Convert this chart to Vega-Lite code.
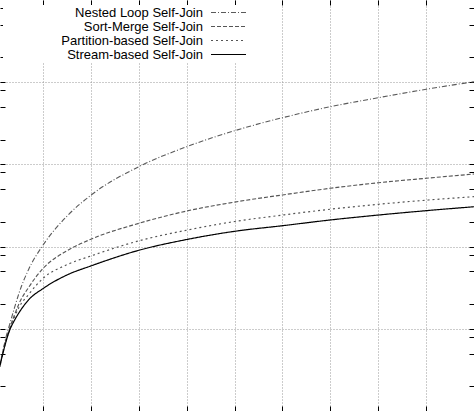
{
  "$schema": "https://vega.github.io/schema/vega-lite/v6.json",
  "width": 474,
  "height": 411,
  "autosize": {"type": "none"},
  "padding": 0,
  "background": "white",
  "config": {
    "view": {"stroke": null},
    "font": "Liberation Sans",
    "legend": {
      "orient": "none", "legendX": 3, "legendY": 5, "title": null,
      "symbolType": "M-3.5,0H3.5", "symbolSize": 100,
      "labelAlign": "right", "labelOffset": -32, "symbolOffset": 218,
      "labelFontSize": 13, "labelFont": "Liberation Sans", "labelColor": "black",
      "fillColor": "white", "padding": 1, "rowPadding": 0
    }
  },
  "data": {
    "values": [
      {"method": "Nested Loop Self-Join", "x": 0.1, "y": 3.43},
      {"method": "Nested Loop Self-Join", "x": 0.15, "y": 4.84},
      {"method": "Nested Loop Self-Join", "x": 0.2, "y": 6.84},
      {"method": "Nested Loop Self-Join", "x": 0.3, "y": 11.2},
      {"method": "Nested Loop Self-Join", "x": 0.4, "y": 17.8},
      {"method": "Nested Loop Self-Join", "x": 0.5, "y": 27.5},
      {"method": "Nested Loop Self-Join", "x": 0.7, "y": 53.1},
      {"method": "Nested Loop Self-Join", "x": 1.0, "y": 104.5},
      {"method": "Nested Loop Self-Join", "x": 1.5, "y": 235},
      {"method": "Nested Loop Self-Join", "x": 2, "y": 422},
      {"method": "Nested Loop Self-Join", "x": 3, "y": 938},
      {"method": "Nested Loop Self-Join", "x": 4, "y": 1641},
      {"method": "Nested Loop Self-Join", "x": 5, "y": 2570},
      {"method": "Nested Loop Self-Join", "x": 6, "y": 3698},
      {"method": "Nested Loop Self-Join", "x": 7, "y": 5035},
      {"method": "Nested Loop Self-Join", "x": 8, "y": 6471},
      {"method": "Nested Loop Self-Join", "x": 9, "y": 8204},
      {"method": "Nested Loop Self-Join", "x": 10, "y": 10140},
      {"method": "Sort-Merge Self-Join", "x": 0.1, "y": 3.63},
      {"method": "Sort-Merge Self-Join", "x": 0.15, "y": 5.01},
      {"method": "Sort-Merge Self-Join", "x": 0.2, "y": 6.6},
      {"method": "Sort-Merge Self-Join", "x": 0.3, "y": 10.1},
      {"method": "Sort-Merge Self-Join", "x": 0.4, "y": 14.6},
      {"method": "Sort-Merge Self-Join", "x": 0.5, "y": 20.4},
      {"method": "Sort-Merge Self-Join", "x": 0.7, "y": 32.0},
      {"method": "Sort-Merge Self-Join", "x": 1.0, "y": 54.3},
      {"method": "Sort-Merge Self-Join", "x": 1.5, "y": 89.1},
      {"method": "Sort-Merge Self-Join", "x": 2, "y": 123},
      {"method": "Sort-Merge Self-Join", "x": 3, "y": 192},
      {"method": "Sort-Merge Self-Join", "x": 4, "y": 271},
      {"method": "Sort-Merge Self-Join", "x": 5, "y": 348},
      {"method": "Sort-Merge Self-Join", "x": 6, "y": 425},
      {"method": "Sort-Merge Self-Join", "x": 7, "y": 512},
      {"method": "Sort-Merge Self-Join", "x": 8, "y": 598},
      {"method": "Sort-Merge Self-Join", "x": 9, "y": 678},
      {"method": "Sort-Merge Self-Join", "x": 10, "y": 764},
      {"method": "Partition-based Self-Join", "x": 0.1, "y": 3.52},
      {"method": "Partition-based Self-Join", "x": 0.15, "y": 4.79},
      {"method": "Partition-based Self-Join", "x": 0.2, "y": 6.31},
      {"method": "Partition-based Self-Join", "x": 0.3, "y": 9.66},
      {"method": "Partition-based Self-Join", "x": 0.4, "y": 13.8},
      {"method": "Partition-based Self-Join", "x": 0.5, "y": 18.4},
      {"method": "Partition-based Self-Join", "x": 0.7, "y": 26.3},
      {"method": "Partition-based Self-Join", "x": 1.0, "y": 41.2},
      {"method": "Partition-based Self-Join", "x": 1.5, "y": 60.3},
      {"method": "Partition-based Self-Join", "x": 2, "y": 76.9},
      {"method": "Partition-based Self-Join", "x": 3, "y": 117.5},
      {"method": "Partition-based Self-Join", "x": 4, "y": 158.5},
      {"method": "Partition-based Self-Join", "x": 5, "y": 201.8},
      {"method": "Partition-based Self-Join", "x": 6, "y": 242},
      {"method": "Partition-based Self-Join", "x": 7, "y": 285},
      {"method": "Partition-based Self-Join", "x": 8, "y": 327},
      {"method": "Partition-based Self-Join", "x": 9, "y": 367},
      {"method": "Partition-based Self-Join", "x": 10, "y": 405},
      {"method": "Stream-based Self-Join", "x": 0.1, "y": 3.63},
      {"method": "Stream-based Self-Join", "x": 0.15, "y": 4.73},
      {"method": "Stream-based Self-Join", "x": 0.2, "y": 6.17},
      {"method": "Stream-based Self-Join", "x": 0.3, "y": 9.55},
      {"method": "Stream-based Self-Join", "x": 0.4, "y": 12.6},
      {"method": "Stream-based Self-Join", "x": 0.5, "y": 15.8},
      {"method": "Stream-based Self-Join", "x": 0.7, "y": 22.6},
      {"method": "Stream-based Self-Join", "x": 1.0, "y": 30.9},
      {"method": "Stream-based Self-Join", "x": 1.5, "y": 45.2},
      {"method": "Stream-based Self-Join", "x": 2, "y": 58.2},
      {"method": "Stream-based Self-Join", "x": 3, "y": 90.2},
      {"method": "Stream-based Self-Join", "x": 4, "y": 122},
      {"method": "Stream-based Self-Join", "x": 5, "y": 153.5},
      {"method": "Stream-based Self-Join", "x": 6, "y": 179.5},
      {"method": "Stream-based Self-Join", "x": 7, "y": 210.9},
      {"method": "Stream-based Self-Join", "x": 8, "y": 242},
      {"method": "Stream-based Self-Join", "x": 9, "y": 273.5},
      {"method": "Stream-based Self-Join", "x": 10, "y": 305.5}
    ]
  },
  "resolve": {"axis": {"x": "independent", "y": "independent"}},
  "layer": [
    {
      "mark": {"type": "line", "interpolate": "monotone", "clip": true},
      "encoding": {
        "x": {
          "field": "x", "type": "quantitative",
          "scale": {"domain": [0.1, 10], "nice": false, "zero": false},
          "axis": {
            "orient": "bottom", "values": [1, 2, 3, 4, 5, 6, 7, 8, 9],
            "labels": false, "domain": false, "title": null,
            "tickSize": -5, "tickColor": "black",
            "grid": true, "gridDash": [1, 2], "gridColor": "#999999", "gridWidth": 1
          }
        },
        "y": {
          "field": "y", "type": "quantitative",
          "scale": {"type": "log", "domain": [1, 100000], "nice": false},
          "axis": {
            "orient": "left",
            "values": [2, 5, 8, 10, 20, 50, 80, 100, 200, 500, 800, 1000, 2000, 5000, 8000, 10000, 20000, 50000, 80000],
            "labels": false, "domain": false, "title": null,
            "tickSize": -5, "tickColor": "black",
            "grid": true, "gridDash": [1, 2], "gridColor": "#999999", "gridWidth": 1,
            "gridOpacity": {"condition": {"test": "indexof([10, 100, 1000, 10000], datum.value) >= 0", "value": 1}, "value": 0}
          }
        },
        "color": {
          "field": "method", "type": "nominal",
          "scale": {
            "domain": ["Nested Loop Self-Join", "Sort-Merge Self-Join", "Partition-based Self-Join", "Stream-based Self-Join"],
            "range": ["#5a5a5a", "#555555", "#555555", "#000000"]
          }
        },
        "strokeDash": {
          "field": "method", "type": "nominal",
          "scale": {
            "domain": ["Nested Loop Self-Join", "Sort-Merge Self-Join", "Partition-based Self-Join", "Stream-based Self-Join"],
            "range": [[5, 2, 1, 2], [4, 2], [2, 3], [1, 0]]
          }
        },
        "strokeWidth": {
          "field": "method", "type": "nominal",
          "scale": {
            "domain": ["Nested Loop Self-Join", "Sort-Merge Self-Join", "Partition-based Self-Join", "Stream-based Self-Join"],
            "range": [1.1, 1.2, 1.2, 1.8]
          }
        }
      }
    },
    {
      "mark": {"type": "point", "opacity": 0},
      "encoding": {
        "x": {
          "field": "x", "type": "quantitative",
          "scale": {"domain": [0.1, 10], "nice": false, "zero": false},
          "axis": {
            "orient": "top", "values": [1, 2, 3, 4, 5, 6, 7, 8, 9],
            "labels": false, "domain": false, "title": null, "grid": false,
            "tickSize": -5, "tickColor": "black"
          }
        },
        "y": {
          "field": "y", "type": "quantitative",
          "scale": {"type": "log", "domain": [1, 100000], "nice": false},
          "axis": {
            "orient": "right",
            "values": [2, 5, 8, 10, 20, 50, 80, 100, 200, 500, 800, 1000, 2000, 5000, 8000, 10000, 20000, 50000, 80000],
            "labels": false, "domain": false, "title": null, "grid": false,
            "tickSize": -5, "tickColor": "black"
          }
        }
      }
    }
  ]
}
